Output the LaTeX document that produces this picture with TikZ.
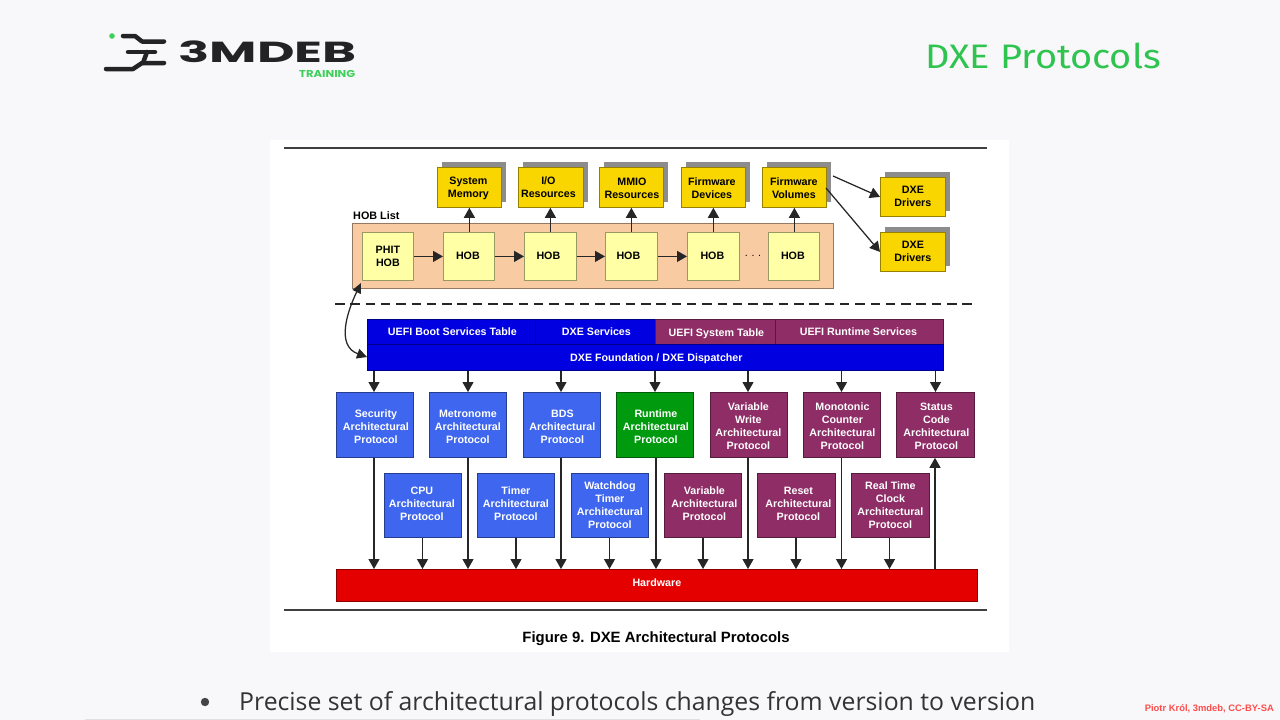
\documentclass[tikz,border=0pt]{standalone}
\usepackage{fontspec}
\setmainfont{Liberation Sans}
\newfontfamily\titlefont{Fira Sans}
\newfontfamily\bodyfont{Open Sans}
\newfontfamily\logofont{Poppins}
\usetikzlibrary{arrows.meta}
\definecolor{pagebg}{HTML}{F8F8FA}
\definecolor{yel}{HTML}{F9D600}
\definecolor{shad}{HTML}{8C8C8C}
\definecolor{peach}{HTML}{F9CBA2}
\definecolor{pale}{HTML}{FFFFA6}
\definecolor{bluebox}{HTML}{3F66EE}
\definecolor{deep}{HTML}{0000E0}
\definecolor{plum}{HTML}{8F2D66}
\definecolor{grn}{HTML}{009A0E}
\definecolor{hw}{HTML}{E50000}
\definecolor{green3}{HTML}{3FD05C}
\definecolor{titlegreen}{HTML}{2FC44F}
\definecolor{inkk}{HTML}{232326}
\tikzset{
  box/.style={draw=#1!60!black,line width=0.8pt,inner sep=0pt,align=center,anchor=north west,
     font=\bfseries\fontsize{10.7}{13}\selectfont},
  conn/.style={line width=1.25pt,draw=black!85,-{Triangle[length=10pt,width=11pt]}},
  rule/.style={line width=1.5pt,draw=black!75},
  logoline/.style={line width=4.5pt,draw=inkk,line cap=round,line join=round},
}
% text block moved by dx,dy (px, y downwards) inside its box
\def\tbshift#1,#2\relax#3{\raisebox{\dimexpr-#2pt-0.7pt\relax}[\height][\depth]{\hspace*{#1pt}\begin{tabular}{@{}c@{}}#3\end{tabular}\hspace*{\dimexpr-#1pt\relax}}}
% \bx[dx,dy]{name}{x1}{y1}{x2}{y2}{fill}{text colour}{text}
\newcommand{\bx}[9][0,0]{\node[box=#7,fill=#7,text=#8,minimum width=#5pt-#3pt,minimum height=#6pt-#4pt] (#2) at (#3,#4) {\tbshift#1\relax{#9}};}
% shadowed yellow box
\newcommand{\sbx}[7][0,0]{\fill[shad] (#3+5,#4-5) rectangle (#5+5,#6-5);\bx[#1]{#2}{#3}{#4}{#5}{#6}{yel}{black}{#7}}
\begin{document}
\begin{tikzpicture}[x=1pt,y=-1pt]
\useasboundingbox (0,0) rectangle (1280,720);
\fill[pagebg] (0,0) rectangle (1280,720);
\fill[black!12] (85,718.5) rectangle (700,720);
% logo
\fill[green3] (112,36) circle (2.8);
\draw[logoline] (123,36) -- (135,36) -- (142,41.5) -- (164,41.5);
\draw[logoline] (128,52) -- (155,52);
\draw[logoline] (147,52) -- (143,63);
\draw[logoline] (106,69) -- (133,69) -- (142,63) -- (164,63);
\node[inkk,inner sep=0pt] (brand) at (267.5,52) {\logofont\bfseries\fontsize{29}{29}\selectfont\scalebox{1.78}[1]{3MDEB}};
\node[green3,inner sep=0pt,anchor=east] (train) at (355.5,74) {\logofont\bfseries\fontsize{10}{10}\selectfont\scalebox{1.16}[1]{TRAINING}};
\node[titlegreen,inner sep=0pt,anchor=east] (title) at (1161,56) {\titlefont\fontsize{34}{34}\selectfont\scalebox{1.116}[1]{DXE Protocols}};
% paper
\fill[white] (270,140) rectangle (1009,652);
\draw[rule] (284,148) -- (987,148);
\draw[rule] (284,610) -- (987,610);
\node[inner sep=0pt] (caption) at (656,639) {\bfseries\fontsize{14.9}{16}\selectfont Figure 9. DXE Architectural Protocols};
% top boxes
\sbx[-1,0.3]{sm}{437}{167}{501}{207}{System\\Memory}
\sbx[-2.5,0.3]{io}{518}{167}{583}{207}{I/O\\Resources}
\sbx[0.5,1]{mm}{599}{167}{663}{207}{MMIO\\Resources}
\sbx[-1.5,1.5]{fd}{681}{167}{745}{207}{Firmware\\Devices}
\sbx[-0.5,1.5]{fv}{762}{167}{826}{207}{Firmware\\Volumes}
\sbx{d1}{880}{177}{945}{216}{DXE\\Drivers}
\sbx{d2}{880}{232}{945}{271}{DXE\\Drivers}
% HOB list
\node[inner sep=0pt,anchor=west] (hl) at (353,215.5) {\bfseries\fontsize{10.8}{12}\selectfont HOB List};
\bx{list}{352}{223}{833}{288}{peach}{black}{}
\bx{h0}{362}{232}{413}{280}{pale}{black}{PHIT\\HOB}
\bx[-1,0]{h1}{443}{232}{494}{280}{pale}{black}{HOB}
\bx[-2,0]{h2}{524}{232}{576}{280}{pale}{black}{HOB}
\bx[-3,0]{h3}{605}{232}{657}{280}{pale}{black}{HOB}
\bx[-1,0]{h4}{687}{232}{739}{280}{pale}{black}{HOB}
\bx[-1,0]{h5}{768}{232}{819}{280}{pale}{black}{HOB}
\node[inner sep=0pt] (dots) at (753,256) {\fontsize{10.7}{13}\selectfont .\,\,.\,\,.};
\draw[conn] (h0) -- (h1);
\draw[conn] (h1) -- (h2);
\draw[conn] (h2) -- (h3);
\draw[conn] (h3) -- (h4);
\draw[conn] (h1.north -| sm.south) -- (sm.south);
\draw[conn] (h2.north) -- (h2.north |- io.south);
\draw[conn] (h3.north) -- (h3.north |- mm.south);
\draw[conn] (h4.north) -- (h4.north |- fd.south);
\draw[conn] (h5.north -| fv.south) -- (fv.south);
\coordinate (fva) at (833,176);
\coordinate (fvb) at (826,188);
\draw[conn] (fva) -- (d1.west);
\draw[conn] (fvb) -- (d2.west);
% separator
\draw[line width=1.4pt,draw=black!85,dash pattern=on 9.5pt off 5.8pt] (335,304) -- (972,304);
% table
\bx[1,0]{t1}{367}{319}{535}{344}{deep}{white}{UEFI Boot Services Table}
\bx[1,0]{t2}{535}{319}{655}{344}{deep}{white}{DXE Services}
\bx[1,1]{t3}{655}{319}{775}{344}{plum}{white}{UEFI System Table}
\bx[-1,0]{t4}{775}{319}{943}{344}{plum}{white}{UEFI Runtime Services}
\bx[1,0.3]{fnd}{367}{344}{943}{370}{deep}{white}{DXE Foundation / DXE Dispatcher}
\coordinate (hc) at (361,283);
\coordinate (fc) at (367,357);
\draw[line width=1.25pt,draw=black!85,{Triangle[length=10pt,width=9pt]}-{Triangle[length=10pt,width=10pt]}] (hc) .. controls (347,312) and (336,346) .. (fc);
% row 1
\bx[1,2.5]{a1}{336}{392}{413}{457}{bluebox}{white}{Security\\Architectural\\Protocol}
\bx[0,2.5]{a2}{429}{392}{506}{457}{bluebox}{white}{Metronome\\Architectural\\Protocol}
\bx[0.5,2.5]{a3}{523}{392}{600}{457}{bluebox}{white}{BDS\\Architectural\\Protocol}
\bx[1,2.5]{a4}{616}{392}{693}{457}{grn}{white}{Runtime\\Architectural\\Protocol}
\bx[-0.5,2]{a5}{710}{392}{787}{457}{plum}{white}{Variable\\Write\\Architectural\\Protocol}
\bx[0.5,2]{a6}{803}{392}{880}{457}{plum}{white}{Monotonic\\Counter\\Architectural\\Protocol}
\bx[1,2]{a7}{896}{392}{974}{457}{plum}{white}{Status\\Code\\Architectural\\Protocol}
% row 2
\bx[-1,-1]{b1}{384}{473}{461}{537}{bluebox}{white}{CPU\\Architectural\\Protocol}
\bx[0,-1]{b2}{477}{473}{554}{537}{bluebox}{white}{Timer\\Architectural\\Protocol}
\bx{b3}{571}{473}{648}{537}{bluebox}{white}{Watchdog\\Timer\\Architectural\\Protocol}
\bx[1.5,-1]{b4}{664}{473}{741}{537}{plum}{white}{Variable\\Architectural\\Protocol}
\bx[2,-1]{b5}{757}{473}{835}{537}{plum}{white}{Reset\\Architectural\\Protocol}
\bx{b6}{851}{473}{929}{537}{plum}{white}{Real Time\\Clock\\Architectural\\Protocol}
\bx[0,-2]{hwb}{336}{569}{977}{601}{hw}{white}{Hardware}
% foundation to row 1
\foreach \n/\x in {a1/374,a2/468,a3/561,a4/655,a5/748,a6/841.5,a7/935.5}{
  \draw[conn] (fnd.south -| {\x,0}) -- (\n.north -| {\x,0});
}
% row 1 to hardware
\foreach \n/\x in {a1/374,a2/468,a3/561,a4/656,a5/748,a6/841.5}{
  \draw[conn] (\n.south -| {\x,0}) -- (hwb.north -| {\x,0});
}
\draw[conn] (hwb.north -| {935,0}) -- (a7.south -| {935,0});
% row 2 to hardware
\foreach \n/\x in {b1/422.5,b2/516,b3/609.5,b4/703,b5/796,b6/889.5}{
  \draw[conn] (\n.south -| {\x,0}) -- (hwb.north -| {\x,0});
}
% bullet
\fill[inkk!85] (205,702) circle (4.2);
\node[inner sep=0pt,anchor=west,text=black!80] (bullet) at (239,703.5) {\bodyfont\fontsize{24.8}{28}\selectfont Precise set of architectural protocols changes from version to version};
\node[inner sep=0pt,anchor=east,text=red!70!white] (credit) at (1274,708.5) {\bfseries\fontsize{9.4}{11}\selectfont Piotr Król, 3mdeb, CC-BY-SA};
\end{tikzpicture}
\end{document}
